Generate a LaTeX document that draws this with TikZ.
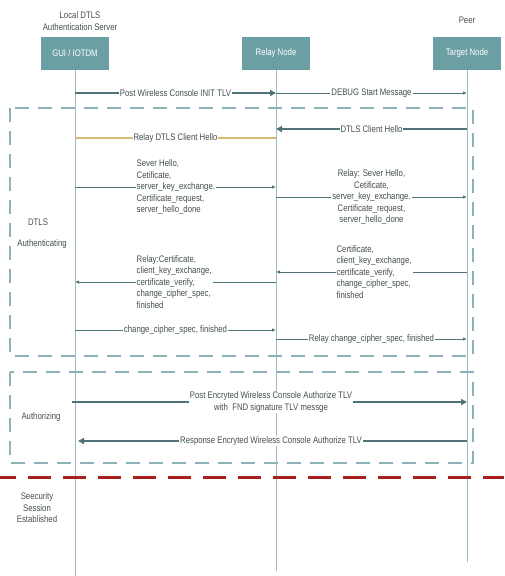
\documentclass[tikz,border=0pt]{standalone}
\usepackage{fontspec}
\setmainfont{Liberation Sans}[FakeStretch=0.82]
\usetikzlibrary{arrows.meta}
\definecolor{boxteal}{HTML}{6B9FA4}
\definecolor{lifecol}{HTML}{9DBDC1}
\definecolor{msgcol}{HTML}{4F7378}
\definecolor{phasecol}{HTML}{8DB3B8}
\definecolor{goldcol}{HTML}{D8BB72}
\definecolor{redcol}{HTML}{A8201E}
\definecolor{txtcol}{HTML}{44504F}

\begin{document}
\begin{tikzpicture}[x=1pt,y=-1pt,font=\fontsize{9.5}{11.5}\selectfont,text=txtcol,
    actor/.style={fill=boxteal,text=white,minimum width=68pt,minimum height=33pt},
    life/.style={lifecol,line width=0.8pt},
    msg/.style={msgcol,line width=0.8pt,-{Latex[length=4pt,width=3.5pt]}},
    bigmsg/.style={msgcol,line width=2.6pt,-{Triangle[length=6pt,width=6pt]}},
    lbl/.style={fill=white,text=txtcol,inner sep=1pt},
    phase/.style={phasecol,line width=1.6pt,dash pattern=on 14pt off 9pt}]
\useasboundingbox (0,0) rectangle (504,576);

% 参与者
\node[actor] (gui) at (75,53.5) {GUI / IOTDM};
\node[actor] (relay) at (276,53.5) {Relay Node};
\node[actor] (target) at (467,53.5) {Target Node};
\node[align=center] (server) at (80,21) {Local DTLS\\Authentication Server};
\node (peer) at (467,20) {Peer};

\coordinate (guiEnd) at (75,576);
\coordinate (relayEnd) at (276,571);
\coordinate (targetEnd) at (467,562);
\draw[life] (gui.south) -- (guiEnd);
\draw[life] (relay.south) -- (relayEnd);
\draw[life] (target.south) -- (targetEnd);

% 阶段框
\draw[phase] (10,108) rectangle (473,356);
\draw[phase] (10,372) rectangle (473,463);
\node (dtls) at (38,222) {DTLS};
\node (authen) at (42,244) {Authenticating};
\node (author) at (41,417) {Authorizing};

% 消息
\draw[bigmsg] (gui |- 0,93) -- (relay |- 0,93) node[midway,lbl] {Post Wireless Console INIT TLV};
\draw[msg] (relay |- 0,93) -- (target |- 0,93) node[midway,lbl] {DEBUG Start Message};
\draw[bigmsg] (target |- 0,129) -- (relay |- 0,129) node[midway,lbl] {DTLS Client Hello};
\draw[goldcol,line width=2pt] (gui |- 0,138) -- (relay |- 0,138) node[midway,lbl] {Relay DTLS Client Hello};

\draw[msg] (gui |- 0,187) -- (relay |- 0,187) node[pos=.3,anchor=west,lbl,align=left]
  {Sever Hello,\\Cetificate,\\server\_key\_exchange.\\Certificate\_request,\\server\_hello\_done};
\draw[msg] (relay |- 0,197) -- (target |- 0,197) node[midway,lbl,align=center]
  {Relay: Sever Hello,\\Cetificate,\\server\_key\_exchange.\\Certificate\_request,\\server\_hello\_done};

\draw[msg] (target |- 0,272) -- (relay |- 0,272) node[pos=.69,anchor=west,lbl,align=left]
  {Certificate,\\client\_key\_exchange,\\certificate\_verify,\\change\_cipher\_spec,\\finished};
\draw[msg] (relay |- 0,282) -- (gui |- 0,282) node[pos=.7,anchor=west,lbl,align=left]
  {Relay:Certificate,\\client\_key\_exchange,\\certificate\_verify,\\change\_cipher\_spec,\\finished};

\draw[msg] (gui |- 0,330) -- (relay |- 0,330) node[midway,lbl] {change\_cipher\_spec, finished};
\draw[msg] (relay |- 0,339) -- (target |- 0,339) node[midway,lbl] {Relay change\_cipher\_spec, finished};

\draw[bigmsg,shorten <=-3pt] (gui |- 0,402) -- (target |- 0,402) node[midway,lbl,align=center]
  {Post Encryted Wireless Console Authorize TLV\\with\ \ FND signature TLV messge};
\draw[bigmsg,shorten >=3pt] (target |- 0,441) -- (gui |- 0,441) node[midway,lbl] {Response Encryted Wireless Console Authorize TLV};

% 会话建立
\draw[redcol,line width=3pt,dash pattern=on 23pt off 12pt,dash phase=7pt] (0,477) -- (504,477);
\node[align=center] (session) at (37,508) {Seecurity\\Session\\Established};
\end{tikzpicture}
\end{document}
